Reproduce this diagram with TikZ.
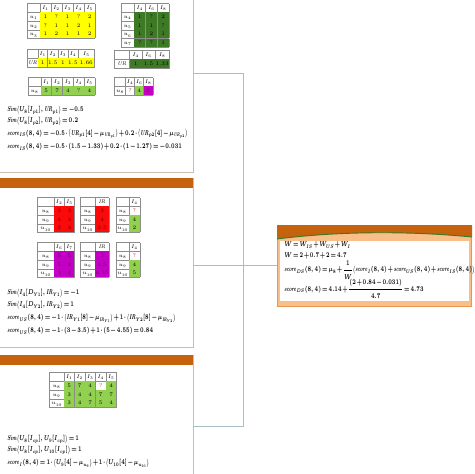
\RequirePackage{fix-cm}
\PassOptionsToPackage{table}{xcolor}
\documentclass[tikz,border=0pt]{standalone}
\usepackage{amsmath}
\usepackage{array}
\usepackage{colortbl}
\DeclareMathSizes{5.3}{5.3}{3.9}{3}
\DeclareMathSizes{4}{4}{3}{2.5}

\definecolor{yel}{RGB}{255,255,0}
\definecolor{dkgreen}{RGB}{62,122,38}
\definecolor{ltgreen}{RGB}{146,208,80}
\definecolor{rd}{RGB}{250,10,10}
\definecolor{mag}{RGB}{196,0,196}
\definecolor{qred}{RGB}{220,0,0}
\definecolor{hdorange}{RGB}{197,98,14}
\definecolor{boxorange}{RGB}{248,192,136}
\definecolor{boxedge}{RGB}{232,150,80}
\definecolor{paneltan}{RGB}{204,190,166}
\definecolor{linkgray}{RGB}{168,190,196}
\definecolor{rulegray}{RGB}{140,140,140}

\newcolumntype{C}[1]{>{\centering\arraybackslash}p{#1}}
\newcommand{\cyel}{\cellcolor{yel}}
\newcommand{\cdkg}{\cellcolor{dkgreen}}
\newcommand{\cltg}{\cellcolor{ltgreen}}
\newcommand{\cred}{\cellcolor{rd}\leavevmode\color{black!55!red}}
\newcommand{\cmag}{\cellcolor{mag}\leavevmode\color{black!55!mag}}
\newcommand{\qm}{\textcolor{qred}{?}}
\newcommand{\eqbox}[1]{\scalebox{0.67}[1]{$#1$}}
\newcommand{\eqfont}{\fontsize{5.3}{6.5}\selectfont\boldmath\medmuskip=1.5mu\relax\thickmuskip=2.5mu\relax}
\setlength{\tabcolsep}{0pt}
\setlength{\arrayrulewidth}{0.3pt}
\arrayrulecolor{rulegray}

\begin{document}
\begin{tikzpicture}[x=0.75pt,y=0.75pt,yscale=-1,xscale=1,
  tbl/.style={anchor=north west,inner sep=0pt,font=\fontsize{4}{6.3}\selectfont},
  eq/.style={anchor=west,inner sep=0.75pt,font=\eqfont},
  panel/.style={draw=paneltan,fill=white,line width=0.6pt,anchor=north west,inner sep=0pt,minimum width=148.5pt},
  link/.style={draw=linkgray,line width=0.6pt}]
\useasboundingbox (0,0) rectangle (474,474);
\clip (0,0) rectangle (474,474);

%Shape: Rectangle (panels)
\node[panel,minimum height=132.75pt] (p1) at (-5,-5) {};
\node[panel,minimum height=126.75pt] (p2) at (-5,178) {};
\node[panel,minimum height=93.75pt] (p3) at (-5,355) {};
\fill[hdorange] (-5,178) rectangle (193,188);
\fill[hdorange] (-5,355) rectangle (193,365);

%Shape: Result box
\node[draw=boxedge,fill=boxorange,anchor=north west,inner sep=0pt,minimum width=145.5pt,minimum height=60.75pt] (res) at (277,225) {};
\fill[hdorange] (277,225) -- (472,225) -- (472,237) .. controls (410,231) and (340,231) .. (277,239) -- cycle;
\draw[dkgreen,line width=0.7pt] (277,239) .. controls (340,231) and (410,231) .. (472,237);
\fill[white] (280,241) rectangle (469,301);

%Straight Lines
\coordinate (bendT) at (243,73);
\coordinate (bendB) at (243,426);
\draw[link] (p1.east |- bendT) -- (bendT) -- (bendB) -- (p3.east |- bendB);
\draw[link] (p2.east |- res.west) -- (res.west);

% Tables: panel 1
\node[tbl] (tabA) at (27,3) {\begin{tabular}{|C{9pt}|C{8pt}|C{8pt}|C{8pt}|C{8pt}|C{8pt}|}\hline
 & $I_1$ & $I_2$ & $I_3$ & $I_4$ & $I_5$\\\hline
$u_1$ &\cyel 1&\cyel ?&\cyel 1&\cyel ?&\cyel 2\\\hline
$u_2$ &\cyel ?&\cyel 1&\cyel 1&\cyel 2&\cyel 1\\\hline
$u_3$ &\cyel 1&\cyel 2&\cyel 1&\cyel 1&\cyel 2\\\hline
\end{tabular}};
\node[tbl] (tabB) at (121,3) {\begin{tabular}{|C{9pt}|C{8.5pt}|C{8.5pt}|C{8.5pt}|}\hline
 & $I_4$ & $I_6$ & $I_8$\\\hline
$u_4$ &\cdkg 1&\cdkg ?&\cdkg 2\\\hline
$u_5$ &\cdkg 1&\cdkg 1&\cdkg ?\\\hline
$u_6$ &\cdkg 1&\cdkg 2&\cdkg 1\\\hline
$u_7$ &\cdkg ?&\cdkg ?&\cdkg 1\\\hline
\end{tabular}};
\node[tbl] (tabC) at (27,49) {\begin{tabular}{|C{7.5pt}|C{7pt}|C{7.5pt}|C{7pt}|C{7.5pt}|C{12pt}|}\hline
 & $I_1$ & $I_2$ & $I_3$ & $I_4$ & $I_5$\\\hline
$\mathit{UR}$ &\cyel 1&\cyel 1.5&\cyel 1&\cyel 1.5&\cyel 1.66\\\hline
\end{tabular}};
\node[tbl] (tabD) at (114,50) {\begin{tabular}{|C{11pt}|C{9pt}|C{9.5pt}|C{10.5pt}|}\hline
 & $I_4$ & $I_6$ & $I_8$\\\hline
$\mathit{UR}$ &\cdkg 1&\cdkg 1.5&\cdkg 1.33\\\hline
\end{tabular}};
\node[tbl] (tabE) at (28,77) {\begin{tabular}{|C{9pt}|C{7.8pt}|C{7.8pt}|C{7.8pt}|C{7.8pt}|C{7.8pt}|}\hline
 & $I_1$ & $I_2$ & $I_3$ & $I_4$ & $I_5$\\\hline
$u_8$ &\cltg 5&\cltg 7&\cltg 4&\cltg ?&\cltg 4\\\hline
\end{tabular}};
\node[tbl] (tabF) at (114,77) {\begin{tabular}{|C{8pt}|C{6.5pt}|C{6.5pt}|C{6.5pt}|}\hline
 & $I_4$ & $I_6$ & $I_8$\\\hline
$u_8$ &\qm&\cltg 4&\cmag 5\\\hline
\end{tabular}};

% Text Node
\node[eq] (eqA1) at (6,110) {\eqbox{\mathit{Sim}\bigl(U_8[I_{p1}], \mathit{UR}_{p1}\bigr) = -0.5}};
\node[eq] (eqA2) at (6,121) {\eqbox{\mathit{Sim}\bigl(U_8[I_{p2}], \mathit{UR}_{p2}\bigr) = 0.2}};
\node[eq] (eqA3) at (6,134) {\eqbox{\mathit{score}_{IS}(8,4) = -0.5\cdot\bigl(\mathit{UR}_{p1}[4]-\mu_{\mathit{UR}_{p1}}\bigr)+0.2\cdot\bigl(\mathit{UR}_{p2}[4]-\mu_{\mathit{UR}_{p2}}\bigr)}};
\node[eq] (eqA4) at (6,147) {\eqbox{\mathit{score}_{IS}(8,4) = -0.5\cdot(1.5-1.33)+0.2\cdot(1-1.27) = -0.031}};

% Tables: panel 2
\node[tbl] (tabG) at (37,197) {\begin{tabular}{|C{12pt}|C{7.5pt}|C{7.5pt}|}\hline
 & $I_2$ & $I_5$\\\hline
$u_8$ &\cred 3&\cred 3\\\hline
$u_9$ &\cred 4&\cred 4\\\hline
$u_{10}$ &\cred 3&\cred 4\\\hline
\end{tabular}};
\node[tbl] (tabH) at (80,197) {\begin{tabular}{|C{10.5pt}|C{10.5pt}|}\hline
 & $\mathit{IR}$\\\hline
$u_8$ &\cred 3\\\hline
$u_9$ &\cred 4\\\hline
$u_{10}$ &\cred 3.5\\\hline
\end{tabular}};
\node[tbl] (tabJ) at (116,197) {\begin{tabular}{|C{9pt}|C{8pt}|}\hline
 & $I_4$\\\hline
$u_8$ &\qm\\\hline
$u_9$ &\cltg 4\\\hline
$u_{10}$ &\cltg 2\\\hline
\end{tabular}};
\node[tbl] (tabK) at (37,242) {\begin{tabular}{|C{12pt}|C{7.5pt}|C{7.5pt}|}\hline
 & $I_6$ & $I_7$\\\hline
$u_8$ &\cmag 5&\cmag 5\\\hline
$u_9$ &\cmag 5&\cmag 4\\\hline
$u_{10}$ &\cmag 4&\cmag 4\\\hline
\end{tabular}};
\node[tbl] (tabL) at (80,242) {\begin{tabular}{|C{10.5pt}|C{10.5pt}|}\hline
 & $\mathit{IR}$\\\hline
$u_8$ &\cmag 5\\\hline
$u_9$ &\cmag 4.5\\\hline
$u_{10}$ &\cmag 4.15\\\hline
\end{tabular}};
\node[tbl] (tabM) at (116,242) {\begin{tabular}{|C{9pt}|C{8pt}|}\hline
 & $I_4$\\\hline
$u_8$ &\qm\\\hline
$u_9$ &\cltg 4\\\hline
$u_{10}$ &\cltg 5\\\hline
\end{tabular}};

% Text Node
\node[eq] (eqB1) at (6,293) {\eqbox{\mathit{Sim}\bigl(I_4[D_{Y1}], \mathit{IR}_{Y1}\bigr) = -1}};
\node[eq] (eqB2) at (6,305) {\eqbox{\mathit{Sim}\bigl(I_4[D_{Y2}], \mathit{IR}_{Y2}\bigr) = 1}};
\node[eq] (eqB3) at (6,318) {\eqbox{\mathit{score}_{US}(8,4) = -1\cdot\bigl(\mathit{IR}_{Y1}[8]-\mu_{\mathit{IR}_{Y1}}\bigr)+1\cdot\bigl(\mathit{IR}_{Y2}[8]-\mu_{\mathit{IR}_{Y2}}\bigr)}};
\node[eq] (eqB4) at (6,331) {\eqbox{\mathit{score}_{US}(8,4) = -1\cdot(3-3.5)+1\cdot(5-4.55) = 0.84}};

% Tables: panel 3
\node[tbl] (tabN) at (49,372) {\begin{tabular}{|C{10.5pt}|C{7.6pt}|C{7.6pt}|C{7.6pt}|C{7.6pt}|C{7.6pt}|}\hline
 & $I_1$ & $I_2$ & $I_3$ & $I_4$ & $I_5$\\\hline
$u_8$ &\cltg 5&\cltg 7&\cltg 4&\qm&\cltg 4\\\hline
$u_9$ &\cltg 3&\cltg 4&\cltg 4&\cltg 7&\cltg 7\\\hline
$u_{10}$ &\cltg 3&\cltg 4&\cltg 7&\cltg 5&\cltg 4\\\hline
\end{tabular}};

% Text Node
\node[eq] (eqC1) at (6,439) {\eqbox{\mathit{Sim}\bigl(U_8[I_{cp}], U_9[I_{cp}]\bigr) = 1}};
\node[eq] (eqC2) at (6,450) {\eqbox{\mathit{Sim}\bigl(U_8[I_{cp}], U_{10}[I_{cp}]\bigr) = 1}};
\node[eq] (eqC3) at (6,463) {\eqbox{\mathit{score}_{I}(8,4) = 1\cdot\bigl(U_9[4]-\mu_{u_9}\bigr)+1\cdot\bigl(U_{10}[4]-\mu_{u_{10}}\bigr)}};

% Text Node (result)
\node[eq] (eqD1) at (283,245) {\eqbox{W = W_{IS}+W_{US}+W_{I}}};
\node[eq] (eqD2) at (283,256) {\eqbox{W = 2+0.7+2 = 4.7}};
\node[eq] (eqD3) at (283,270) {\eqbox{\mathit{score}_{DS}(8,4) = \mu_8+\dfrac{1}{W}\bigl(\mathit{score}_{I}(8,4)+\mathit{score}_{US}(8,4)+\mathit{score}_{IS}(8,4)\bigr)}};
\node[eq] (eqD4) at (283,289) {\eqbox{\mathit{score}_{DS}(8,4) = 4.14+\dfrac{(2+0.84-0.031)}{4.7} = 4.73}};

\end{tikzpicture}
\end{document}
